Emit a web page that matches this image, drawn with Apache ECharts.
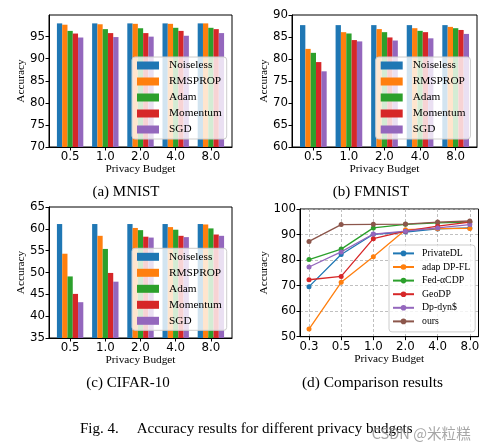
<!DOCTYPE html>
<html><head><meta charset="utf-8">
<script src="https://cdn.jsdelivr.net/npm/echarts/dist/echarts.min.js"></script>
<style>html,body{margin:0;padding:0;background:#fff}#c{width:487px;height:444px}</style>
</head><body><div id="c"></div>
<script>
// ---------- data ----------
const budgets = ['0.5', '1.0', '2.0', '4.0', '8.0'];
const optimizers = ['Noiseless', 'RMSPROP', 'Adam', 'Momentum', 'SGD'];

const mnistNoiseless = [98.0, 98.0, 98.0, 98.0, 98.0];
const mnistRmsprop   = [97.7, 97.8, 97.9, 97.9, 98.0];
const mnistAdam      = [96.3, 96.7, 96.9, 97.0, 97.0];
const mnistMomentum  = [95.7, 95.8, 95.8, 96.3, 96.7];
const mnistSgd       = [94.8, 94.9, 95.0, 95.2, 95.8];

const fmnistNoiseless = [87.7, 87.7, 87.7, 87.7, 87.7];
const fmnistRmsprop   = [82.3, 86.1, 86.8, 87.0, 87.3];
const fmnistAdam      = [81.4, 85.8, 86.1, 86.4, 87.0];
const fmnistMomentum  = [79.3, 84.3, 84.9, 86.1, 86.6];
const fmnistSgd       = [77.2, 84.0, 84.2, 84.7, 85.7];

const cifarNoiseless = [61.1, 61.1, 61.1, 61.1, 61.1];
const cifarRmsprop   = [54.3, 58.4, 60.2, 60.4, 61.0];
const cifarAdam      = [49.1, 55.4, 59.7, 59.8, 60.1];
const cifarMomentum  = [45.1, 49.9, 58.2, 58.4, 58.7];
const cifarSgd       = [43.2, 47.9, 58.0, 58.1, 58.4];

const compBudgets = ['0.3', '0.5', '1.0', '2.0', '4.0', '8.0'];
const methods = ['PrivateDL', 'adap DP-FL', 'Fed-\u03B1CDP', 'GeoDP', 'Dp-dyn$', 'ours'];
const privateDL = [69.6, 82.2, 90.1, 91.0, 92.2, 92.6];
const adapDPFL  = [53.0, 71.3, 81.3, 91.9, 92.3, 92.4];
const fedACDP   = [80.2, 84.3, 92.6, 94.0, 94.6, 94.9];
const geoDP     = [72.3, 73.6, 88.4, 91.3, 93.3, 94.9];
const dpDyn     = [77.3, 83.2, 90.2, 91.3, 92.6, 93.9];
const ours      = [87.3, 93.9, 94.0, 94.1, 94.9, 95.3];

const yTicksMnist = [70, 75, 80, 85, 90, 95];

// ---------- styling ----------
const colors = ['#1f77b4', '#ff7f0e', '#2ca02c', '#d62728', '#9467bd', '#8c564b'];
const serif = 'Liberation Serif';
const sans = 'DejaVu Sans';
const tickFont = { fontFamily: sans, fontSize: 11.8, color: '#000' };
const nameFont = { fontFamily: serif, fontSize: 11.3, color: '#000' };

const grids = [
  { left: 49, top: 15, width: 183, height: 132 },
  { left: 292, top: 15, width: 185, height: 132 },
  { left: 49, top: 207, width: 183, height: 131 },
  { left: 300, top: 209, width: 178.5, height: 127.7 }
].map(g => Object.assign({ show: true, borderColor: '#000', borderWidth: 1, backgroundColor: 'transparent', containLabel: false }, g));

const idx5 = budgets.map((_, i) => i);
const idx6 = compBudgets.map((_, i) => i);

function barXAxis(gi) {
  return {
    type: 'value', gridIndex: gi, min: -0.6, max: 4.6,
    axisLine: { show: true, onZero: false, lineStyle: { color: '#000', width: 1 } },
    axisTick: { show: true, length: 3.5, customValues: idx5, lineStyle: { color: '#000' } },
    axisLabel: { customValues: idx5, formatter: v => budgets[Math.round(v)], margin: 4, ...tickFont },
    splitLine: { show: false },
    name: 'Privacy Budget', nameLocation: 'middle', nameGap: 13, nameTextStyle: nameFont
  };
}
function barYAxis(gi, min, max, gap, custom) {
  const ax = {
    type: 'value', gridIndex: gi, min: min, max: max, interval: 5,
    axisLine: { show: true, onZero: false, lineStyle: { color: '#000', width: 1 } },
    axisTick: { show: true, length: 3.5, lineStyle: { color: '#000' } },
    axisLabel: { margin: 4, ...tickFont },
    splitLine: { show: false },
    name: 'Accuracy', nameLocation: 'middle', nameGap: gap, nameTextStyle: nameFont
  };
  if (custom) { ax.axisTick.customValues = custom; ax.axisLabel.customValues = custom; }
  return ax;
}

const xAxes = [barXAxis(0), barXAxis(1), barXAxis(2), {
  type: 'value', gridIndex: 3, min: -0.28, max: 5.27,
  axisLine: { show: true, onZero: false, lineStyle: { color: '#000', width: 1 } },
  axisTick: { show: true, length: 3.5, customValues: idx6, lineStyle: { color: '#000' } },
  axisLabel: { customValues: idx6, formatter: v => compBudgets[Math.round(v)], margin: 4, ...tickFont },
  splitLine: { show: true, lineStyle: { color: '#b0b0b0', width: 0.8, type: [3, 2] } },
  name: 'Privacy Budget', nameLocation: 'middle', nameGap: 14.5, nameTextStyle: nameFont
}];
const yAxes = [
  barYAxis(0, 70, 99.9, 17, yTicksMnist),
  barYAxis(1, 60, 90, 14),
  barYAxis(2, 35, 65, 17),
  {
    type: 'value', gridIndex: 3, min: 50, max: 100, interval: 10,
    axisLine: { show: true, onZero: false, lineStyle: { color: '#000', width: 1 } },
    axisTick: { show: true, length: 3.5, lineStyle: { color: '#000' } },
    axisLabel: { margin: 4, ...tickFont },
    splitLine: { show: true, lineStyle: { color: '#b0b0b0', width: 0.8, type: [3, 2] } },
    name: 'Accuracy', nameLocation: 'middle', nameGap: 21.5, nameTextStyle: nameFont
  }
];

const barSets = [
  [mnistNoiseless, mnistRmsprop, mnistAdam, mnistMomentum, mnistSgd],
  [fmnistNoiseless, fmnistRmsprop, fmnistAdam, fmnistMomentum, fmnistSgd],
  [cifarNoiseless, cifarRmsprop, cifarAdam, cifarMomentum, cifarSgd]
];
const series = [];
barSets.forEach((set, gi) => {
  set.forEach((vals, si) => {
    series.push({
      type: 'bar', name: optimizers[si], xAxisIndex: gi, yAxisIndex: gi,
      data: vals.map((v, i) => [i, v]),
      barWidth: '15%', barGap: '0%',
      itemStyle: { color: colors[si] }, silent: true, animation: false
    });
  });
});
[privateDL, adapDPFL, fedACDP, geoDP, dpDyn, ours].forEach((vals, si) => {
  series.push({
    type: 'line', name: methods[si], xAxisIndex: 3, yAxisIndex: 3,
    data: vals.map((v, i) => [i, v]),
    symbol: 'circle', symbolSize: 5, showSymbol: true,
    lineStyle: { color: colors[si], width: 1.3 },
    itemStyle: { color: colors[si] }, silent: true, animation: false
  });
});

function barLegend(left, top) {
  return {
    left: left, top: top, orient: 'vertical', data: optimizers, icon: 'rect',
    itemWidth: 22, itemHeight: 8, itemGap: 5, padding: [3, 5, 4, 5],
    backgroundColor: 'rgba(255,255,255,0.8)', borderColor: '#cccccc', borderWidth: 1, borderRadius: 3,
    textStyle: { fontFamily: serif, fontSize: 11.3, color: '#000', padding: [0, 0, 0, 5] },
    selectedMode: false
  };
}
const legends = [
  barLegend(132, 57), barLegend(375.7, 57), barLegend(132, 248.3),
  {
    left: 389, top: 245, orient: 'vertical', data: methods,
    itemWidth: 21, itemHeight: 7, itemGap: 3.6, padding: [3.4, 5, 5.5, 3],
    backgroundColor: 'rgba(255,255,255,0.8)', borderColor: '#cccccc', borderWidth: 1, borderRadius: 3,
    textStyle: { fontFamily: serif, fontSize: 9.8, color: '#000', padding: [0, 0, 0, 3] },
    selectedMode: false
  }
];

function cap(text, x, y, size, align) {
  return { type: 'text', x: x, y: y, silent: true, z: 100,
    style: { text: text, fill: '#000', font: size + 'px "' + serif + '"', textAlign: align || 'center', textVerticalAlign: 'middle' } };
}
const graphics = [
  cap('(a) MNIST', 126, 191.7, 15),
  cap('(b) FMNIST', 371, 191.7, 15),
  cap('(c) CIFAR-10', 128, 383, 15),
  cap('(d) Comparison results', 372.5, 383, 15.4),
  cap('Fig. 4.', 80, 429.3, 15, 'left'),
  cap('Accuracy results for different privacy budgets', 136.7, 429.3, 15, 'left'),
  { type: 'text', x: 371.7, y: 433, silent: true, z: 101,
    style: { text: 'CSDN @\u7C73\u7C92\u7CD5', fill: 'rgba(150,150,150,0.85)', font: '14.6px "Noto Sans CJK SC"', textAlign: 'left', textVerticalAlign: 'middle' } }
];

const chart = echarts.init(document.getElementById('c'), null, { renderer: 'canvas' });
chart.setOption({
  backgroundColor: '#fff', animation: false,
  grid: grids, xAxis: xAxes, yAxis: yAxes, series: series, legend: legends, graphic: graphics
});
</script></body></html>
